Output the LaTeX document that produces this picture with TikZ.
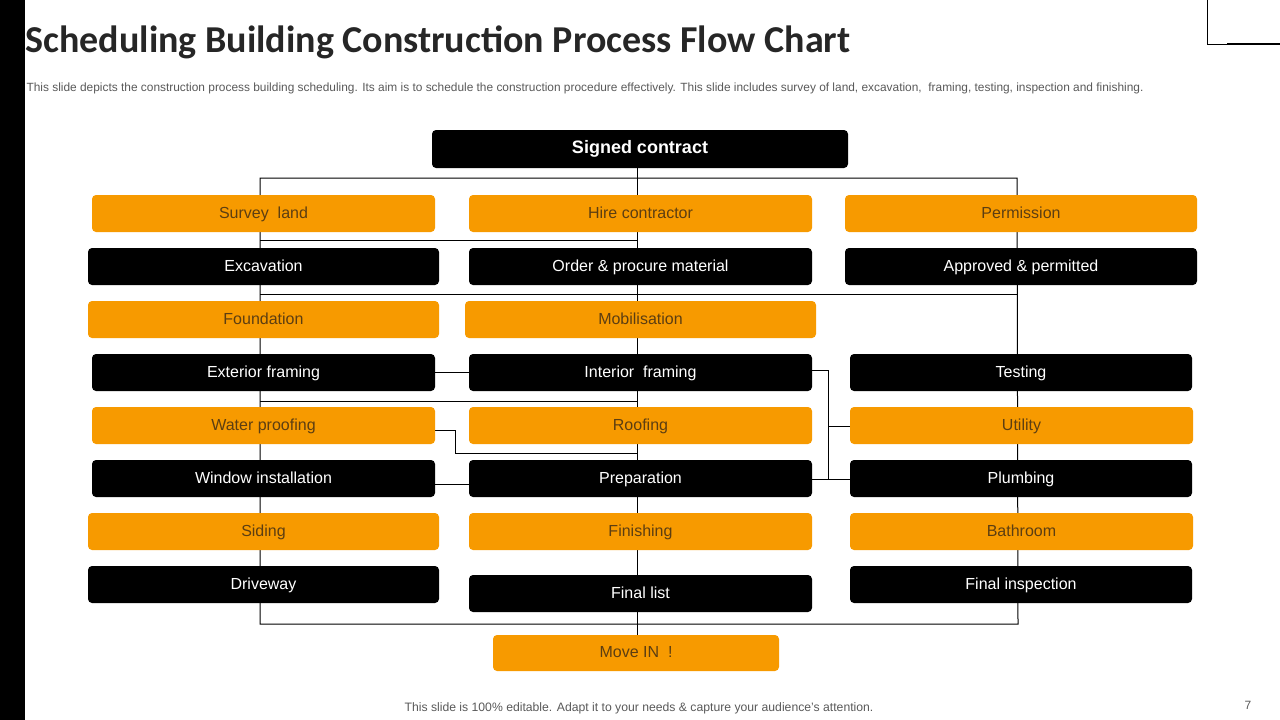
\documentclass[tikz,border=0pt]{standalone}
\usepackage{fontspec}
\setmainfont{Liberation Sans}
\newfontfamily\titlefont{Carlito}
\definecolor{orangebox}{HTML}{F79A00}
\definecolor{orangetext}{HTML}{5C3E12}
\definecolor{greytext}{HTML}{595959}
\tikzset{
  obox/.style={fill=orangebox,text=orangetext,rounded corners=4pt,inner sep=0pt,text height=12pt,text depth=3pt},
  kbox/.style={fill=black,text=white,rounded corners=4pt,inner sep=0pt,text height=12pt,text depth=3pt},
  link/.style={draw=black,line width=1pt}
}
\begin{document}
\begin{tikzpicture}[x=1pt,y=-1pt,font=\fontsize{16}{19}\selectfont]
	\useasboundingbox (0,0) rectangle (1280,720);
	\fill[black] (0,0) rectangle (25,720);
	\draw[line width=0.8pt] (1207,0) -- (1207,44) -- (1280,44);
	\draw[line width=2.5pt] (1227,44) -- (1280,44);
	\node[anchor=west,font=\titlefont\bfseries\fontsize{38}{44}\selectfont,text=black!85] (title) at (22,42) {Scheduling Building Construction Process Flow Chart};
	\node[anchor=west,text=greytext,font=\fontsize{11.9}{14}\selectfont] (sub) at (23,88) {This slide depicts the construction process building scheduling. Its aim is to schedule the construction procedure effectively. This slide includes survey of land, excavation,\ \ framing, testing, inspection and finishing.};
	\node[text=greytext,font=\fontsize{12.2}{14}\selectfont] (foot) at (639,708) {This slide is 100\% editable. Adapt it to your needs \& capture your audience's attention.};
	\node[text=greytext,font=\fontsize{12}{14}\selectfont] (page) at (1248,705) {7};
	% connectors
	\coordinate (tl) at (260,178);
	\coordinate (tr) at (1017,178);
	\coordinate (bl) at (260,624);
	\coordinate (br) at (1018,624);
	\draw[link] (tl) -- (tr) -- (br) -- (bl) -- cycle;
	\draw[link] (637,168) -- (637,635);
	\draw[link] (260,240) -- (637,240);
	\draw[link] (260,294) -- (1017,294);
	\draw[link] (260,401) -- (637,401);
	\draw[link] (435,372) -- (469,372);
	\draw[link] (435,430) -- (455,430) -- (455,453) -- (637,453);
	\draw[link] (435,484) -- (469,484);
	\draw[link] (812,370) -- (828,370) -- (828,479) -- (850,479);
	\draw[link] (828,426) -- (850,426);
	\draw[link] (812,479) -- (828,479);
	% boxes: name/x1/x2/y1/y2/style/text
	\foreach \n/\xa/\xb/\ya/\yb/\s/\t in {
		contract/432/848/130/168/kbox/{\bfseries\fontsize{18}{21}\selectfont Signed contract},
		survey/92/435/195/232/obox/Survey\ \ land,
		hire/469/812/195/232/obox/Hire contractor,
		permission/845/1197/195/232/obox/Permission,
		excavation/88/439/248/285/kbox/Excavation,
		order/469/812/248/285/kbox/Order \& procure material,
		approved/845/1197/248/285/kbox/Approved \& permitted,
		foundation/88/439/301/338/obox/Foundation,
		mobilisation/465/816/301/338/obox/Mobilisation,
		exterior/92/435/354/391/kbox/Exterior framing,
		interior/469/812/354/391/kbox/Interior\ \ framing,
		testing/850/1192/354/391/kbox/Testing,
		water/92/435/407/444/obox/Water proofing,
		roofing/469/812/407/444/obox/Roofing,
		utility/850/1193/407/444/obox/Utility,
		window/92/435/460/497/kbox/Window installation,
		preparation/469/812/460/497/kbox/Preparation,
		plumbing/850/1192/460/497/kbox/Plumbing,
		siding/88/439/513/550/obox/Siding,
		finishing/469/812/513/550/obox/Finishing,
		bathroom/850/1193/513/550/obox/Bathroom,
		driveway/88/439/566/603/kbox/Driveway,
		finallist/469/812/575/612/kbox/Final list,
		inspection/850/1192/566/603/kbox/Final inspection,
		movein/493/779/635/671/obox/Move IN\ \ !%
	}
		\node[\s,minimum width={(\xb-\xa)*1pt},minimum height={(\yb-\ya)*1pt}] (\n) at ({(\xa+\xb)/2},{(\ya+\yb)/2}) {\t};
\end{tikzpicture}
\end{document}
